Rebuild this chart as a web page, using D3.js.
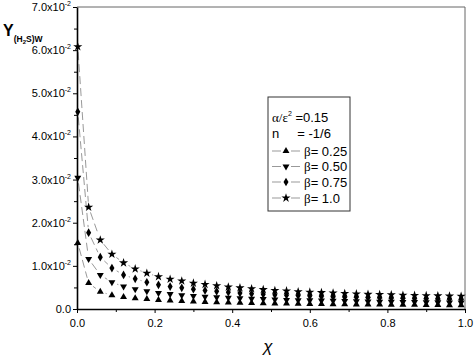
<!DOCTYPE html>
<html><head><meta charset="utf-8">
<script src="https://cdn.jsdelivr.net/npm/d3@7"></script>
<style>body{margin:0;background:#fff}svg{display:block}text{font-family:"Liberation Sans",Arial,sans-serif}</style>
</head><body>
<svg id="c" width="474" height="357"></svg>
<script>
const xs = [0.002,0.03,0.06,0.09,0.12,0.15,0.18,0.21,0.24,0.27,0.30,0.33,0.36,0.39,0.42,0.45,0.48,0.51,0.54,0.57,0.60,0.63,0.66,0.69,0.72,0.75,0.78,0.81,0.84,0.87,0.90,0.93,0.96,0.99];
// values in units of 1e-2
const beta025 = [1.53,0.60,0.40,0.32,0.28,0.25,0.23,0.21,0.195,0.185,0.175,0.165,0.158,0.15,0.145,0.14,0.135,0.13,0.126,0.122,0.118,0.115,0.112,0.11,0.107,0.105,0.102,0.10,0.098,0.096,0.094,0.092,0.09,0.089];
const beta050 = [3.04,1.16,0.79,0.62,0.52,0.46,0.41,0.37,0.345,0.32,0.30,0.285,0.27,0.26,0.25,0.24,0.23,0.22,0.21,0.205,0.20,0.195,0.19,0.185,0.18,0.175,0.17,0.167,0.163,0.16,0.157,0.154,0.151,0.148];
const beta075 = [4.57,1.77,1.20,0.95,0.79,0.70,0.62,0.56,0.52,0.49,0.46,0.43,0.41,0.39,0.37,0.355,0.34,0.33,0.32,0.31,0.30,0.29,0.28,0.275,0.27,0.26,0.255,0.25,0.245,0.24,0.235,0.23,0.225,0.22];
const beta100 = [6.08,2.36,1.60,1.27,1.07,0.93,0.83,0.75,0.69,0.65,0.60,0.57,0.54,0.51,0.49,0.47,0.45,0.43,0.42,0.40,0.39,0.38,0.37,0.36,0.35,0.34,0.335,0.33,0.32,0.315,0.31,0.305,0.30,0.295];
const seriesNames = ["β= 0.25","β= 0.50","β= 0.75","β= 1.0"];
const xTicks = [0,0.2,0.4,0.6,0.8,1.0];
const xTickLabels = ["0.0","0.2","0.4","0.6","0.8","1.0"];
const yTicks = [0,1,2,3,4,5,6,7];
const yTickLabels = ["0.0","1.0x10","2.0x10","3.0x10","4.0x10","5.0x10","6.0x10","7.0x10"];

const svg = d3.select("#c");
const L=77,R=465,T=7,B=309;
const x = d3.scaleLinear().domain([0,1]).range([L,R]);
const y = d3.scaleLinear().domain([0,7]).range([B,T]);

// frame
svg.append("line").attr("x1",L).attr("x2",R).attr("y1",T).attr("y2",T).attr("stroke","#666").attr("stroke-width",1);
svg.append("line").attr("x1",R).attr("x2",R).attr("y1",T).attr("y2",B).attr("stroke","#666").attr("stroke-width",1);

// minor ticks
svg.append("g").attr("transform",`translate(0,${B})`)
  .call(d3.axisBottom(x).tickValues([0.1,0.3,0.5,0.7,0.9]).tickSize(3).tickFormat(""))
  .call(g=>g.select(".domain").remove());
svg.append("g").attr("transform",`translate(${L},0)`)
  .call(d3.axisLeft(y).tickValues([0.5,1.5,2.5,3.5,4.5,5.5,6.5]).tickSize(3).tickFormat(""))
  .call(g=>g.select(".domain").remove());

// series lines: straight segments with gaps around symbols
const data = [beta025,beta050,beta075,beta100];
const gap = 5.5;
const seg = d3.line();
data.forEach((s,k)=>{
  const g = svg.append("g");
  for(let i=0;i<s.length-1;i++){
    const x0=x(xs[i]), y0=y(s[i]), x1=x(xs[i+1]), y1=y(s[i+1]);
    const d=Math.hypot(x1-x0,y1-y0);
    if(d<=2*gap+1) continue;
    const ux=(x1-x0)/d, uy=(y1-y0)/d;
    g.append("path").attr("d",seg([[x0+ux*gap,y0+uy*gap],[x1-ux*gap,y1-uy*gap]]))
      .attr("fill","none").attr("stroke","#999").attr("stroke-width",1).attr("stroke-dasharray","8,4");
  }
});

// x axis
const gx = svg.append("g").attr("transform",`translate(0,${B})`)
  .call(d3.axisBottom(x).tickValues(xTicks).tickSize(4).tickSizeOuter(0).tickPadding(6).tickFormat((d,i)=>xTickLabels[i]));
gx.selectAll("text").attr("font-size",11).attr("font-family","Liberation Sans, Arial, sans-serif").attr("fill","#000");
gx.select(".domain").attr("stroke-width",1.6);

// y axis
const gy = svg.append("g").attr("transform",`translate(${L},0)`)
  .call(d3.axisLeft(y).tickValues(yTicks).tickSize(4).tickSizeOuter(0).tickPadding(2).tickFormat((d,i)=>yTickLabels[i]));
gy.select(".domain").attr("stroke-width",1.6);
gy.selectAll("text").attr("font-size",11).attr("font-family","Liberation Sans, Arial, sans-serif").attr("fill","#000")
  .each(function(d,i){
    if(d!==0){
      d3.select(this).append("tspan").attr("font-size",7).attr("dy",-5).text("-2");
    }
  });

// markers
const symbols = [
  d3.symbol().type(d3.symbolTriangle).size(21),
  d3.symbol().type(d3.symbolTriangle).size(21),
  d3.symbol().type(d3.symbolDiamond).size(22),
  d3.symbol().type(d3.symbolStar).size(26)
];
const rot = [0,180,0,0];
data.forEach((s,k)=>{
  svg.append("g").selectAll("path").data(s).join("path")
    .attr("d",symbols[k]())
    .attr("transform",(d,i)=>`translate(${x(xs[i])},${y(d)}) rotate(${rot[k]})`)
    .attr("fill","#000");
});

// axis title
svg.append("text").attr("x",(L+R)/2-3).attr("y",352).attr("text-anchor","middle")
  .attr("font-family","Liberation Serif, serif").attr("font-style","italic").attr("font-size",17).text("χ");

// y label
const yl = svg.append("text").attr("x",3).attr("y",36).attr("font-weight","bold").attr("font-size",16);
yl.append("tspan").text("Y");
yl.append("tspan").attr("font-size",8.5).attr("dy",6).text("(H");
yl.append("tspan").attr("font-size",6).attr("dy",2).text("2");
yl.append("tspan").attr("font-size",8.5).attr("dy",-2).text("S)W");

// legend
const lx=268, ly=97, lw=82, lh=114;
svg.append("rect").attr("x",lx).attr("y",ly).attr("width",lw).attr("height",lh).attr("fill","#fff").attr("stroke","#333").attr("stroke-width",1);
const t1 = svg.append("text").attr("x",272).attr("y",122).attr("font-size",13);
t1.append("tspan").attr("font-family","Liberation Serif, serif").text("α/ε");
t1.append("tspan").attr("font-size",7).attr("dy",-6).text("2");
t1.append("tspan").attr("dy",6).text(" =0.15");
svg.append("text").attr("x",272).attr("y",138).attr("font-size",13).attr("xml:space","preserve").text("n     = -1/6");
const legY = [151,166.5,182,198];
seriesNames.forEach((n,k)=>{
  const g = svg.append("g");
  g.append("line").attr("x1",272).attr("x2",281).attr("y1",legY[k]).attr("y2",legY[k]).attr("stroke","#999").attr("stroke-width",1);
  g.append("line").attr("x1",291).attr("x2",300).attr("y1",legY[k]).attr("y2",legY[k]).attr("stroke","#999").attr("stroke-width",1);
  g.append("path").attr("d",symbols[k]()).attr("transform",`translate(286,${legY[k]}) rotate(${rot[k]})`).attr("fill","#000");
  const t = g.append("text").attr("x",304).attr("y",legY[k]+4.5).attr("font-size",13);
  t.append("tspan").attr("font-family","Liberation Serif, serif").text("β");
  t.append("tspan").text(n.slice(1));
});
</script>
</body></html>
